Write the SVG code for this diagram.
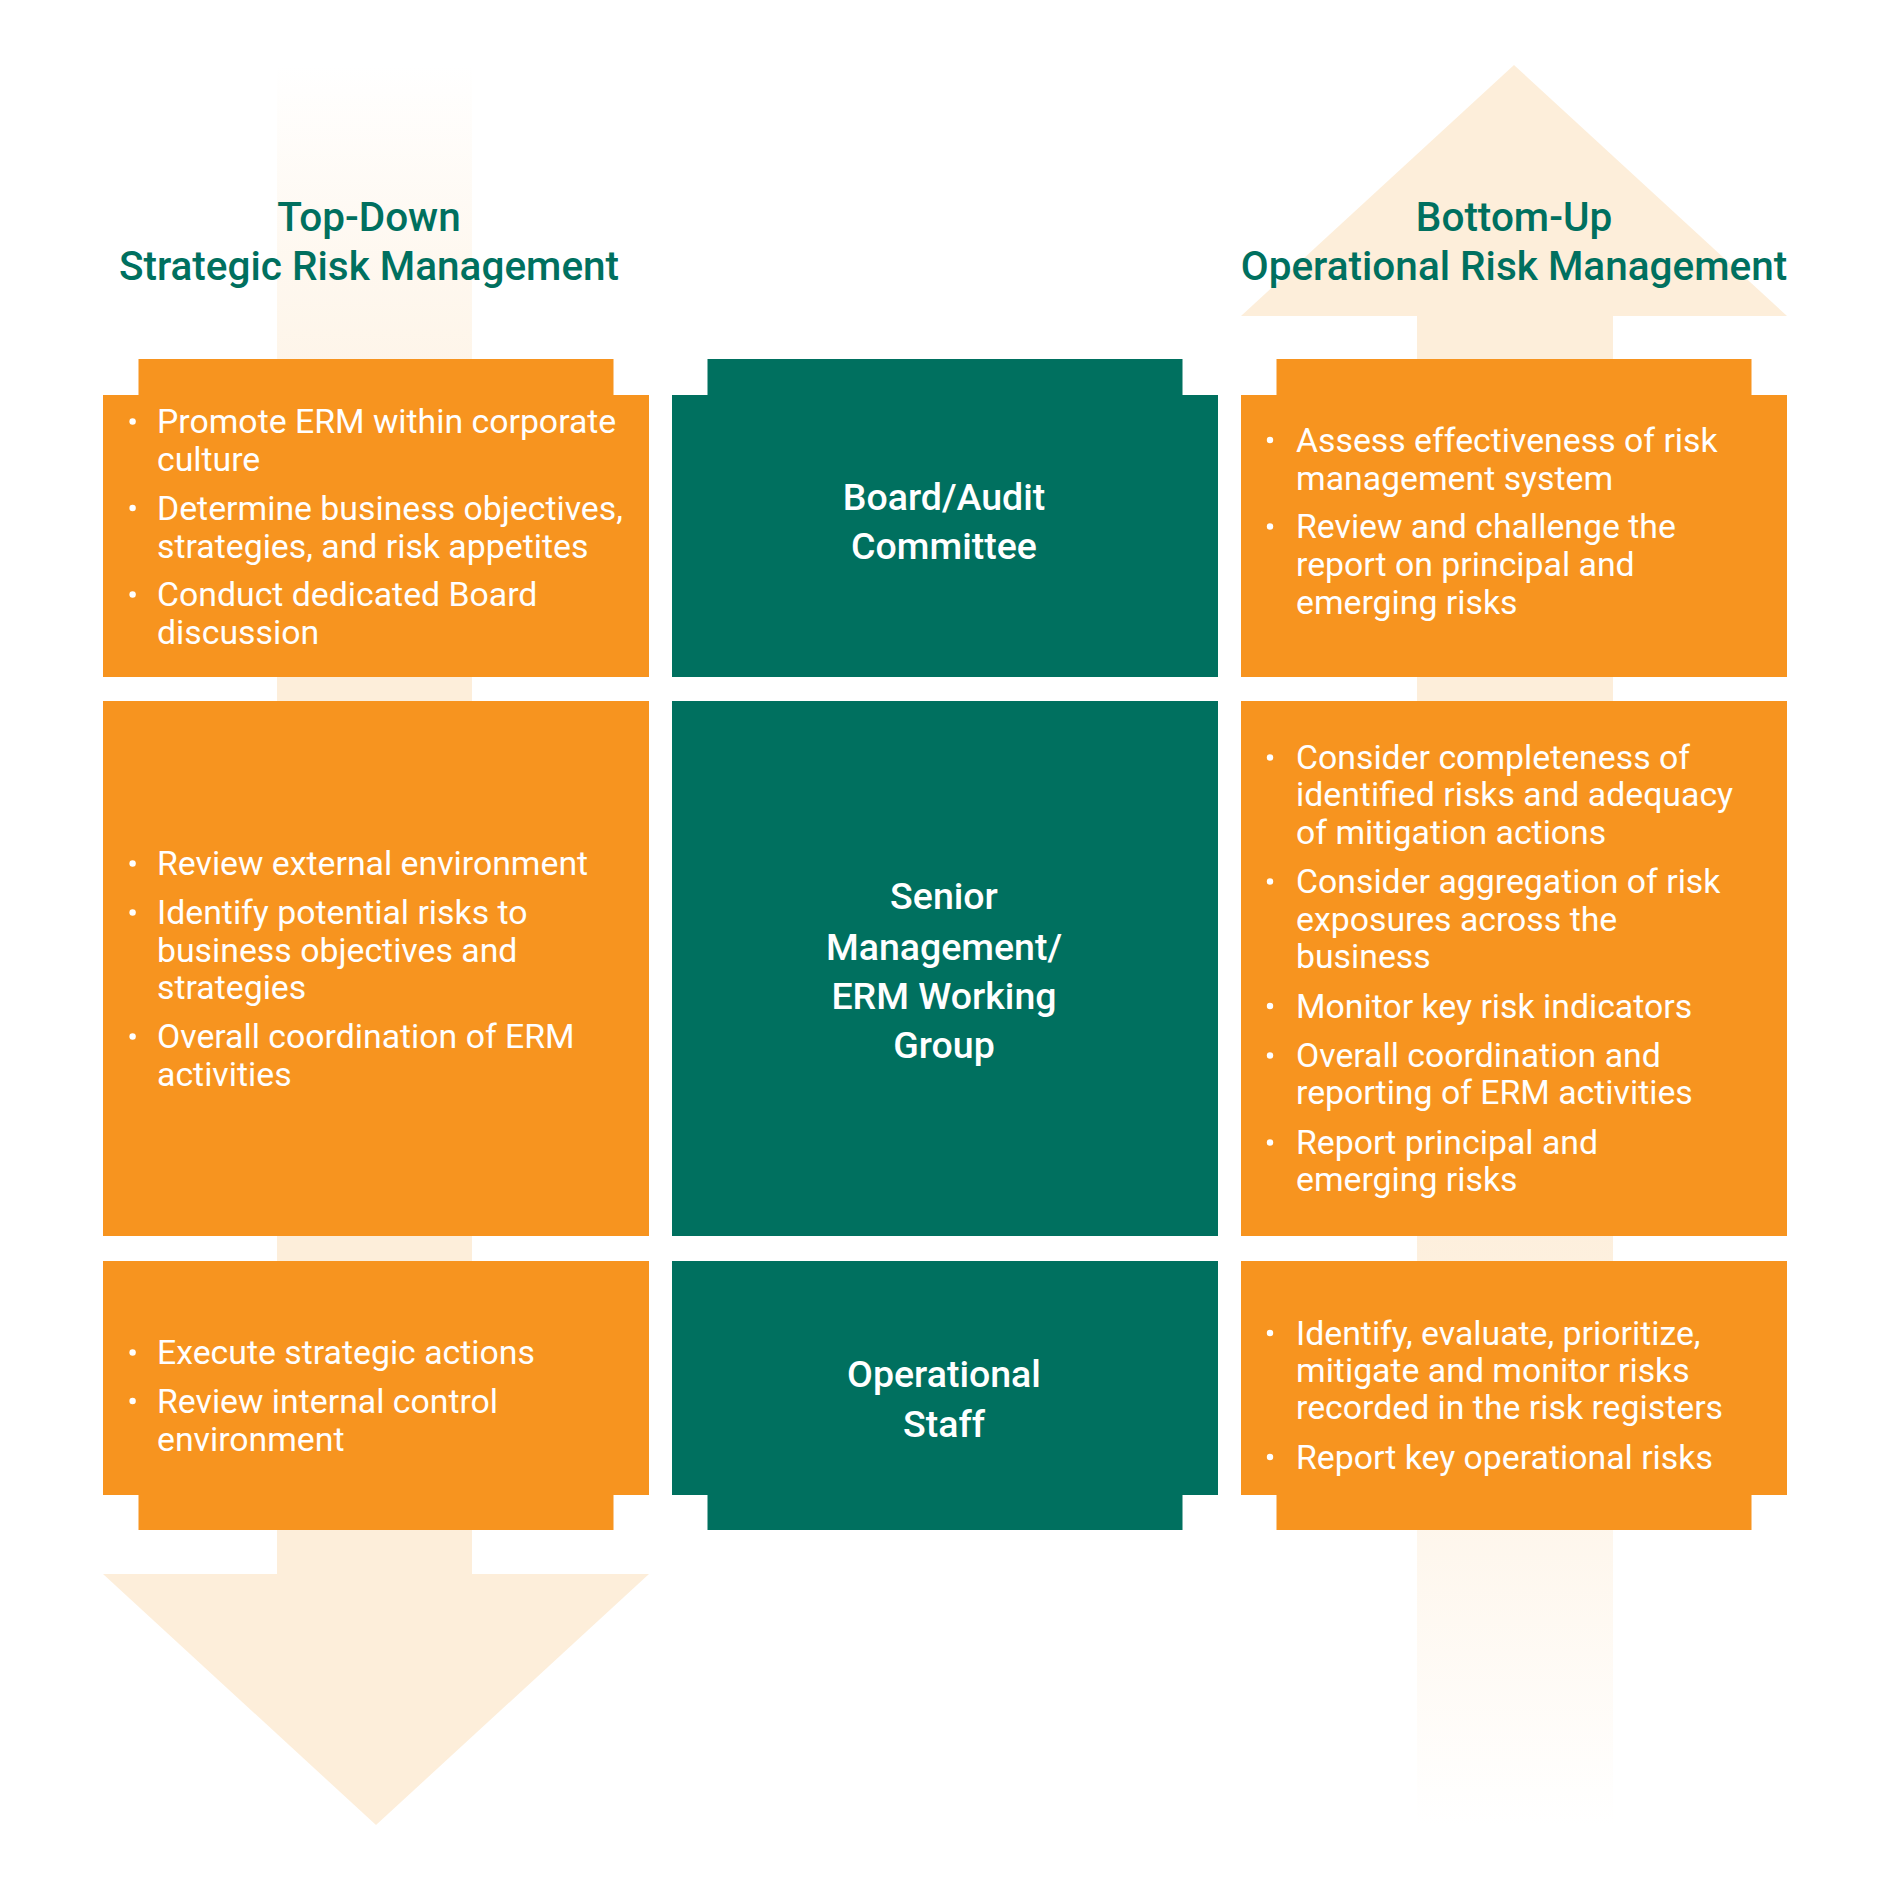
<svg xmlns="http://www.w3.org/2000/svg" width="1890" height="1890" viewBox="0 0 1890 1890">
<defs>
<style>
.org{fill:#F7941F}
.grn{fill:#00705F}
.pale{fill:#FDEEDA}
.title{font-family:Roboto,"Liberation Sans",sans-serif;font-weight:500;font-size:40.5px;fill:#00705F;text-anchor:middle}
.role{font-family:Roboto,"Liberation Sans",sans-serif;font-weight:500;font-size:37.5px;fill:#FFFFFF;text-anchor:middle}
.item{font-family:Roboto,"Liberation Sans",sans-serif;font-weight:400;font-size:33.8px;fill:#FFFFFF}
.dot{fill:#FFFFFF}
</style>
<linearGradient id="gDown" gradientUnits="userSpaceOnUse" x1="0" y1="65" x2="0" y2="600">
<stop offset="0" stop-color="#FDEEDA" stop-opacity="0"/>
<stop offset="0.35" stop-color="#FDEEDA" stop-opacity="0.4"/>
<stop offset="1" stop-color="#FDEEDA" stop-opacity="1"/>
</linearGradient>
<linearGradient id="gUp" gradientUnits="userSpaceOnUse" x1="0" y1="1180" x2="0" y2="1825">
<stop offset="0" stop-color="#FDEEDA" stop-opacity="1"/>
<stop offset="0.55" stop-color="#FDEEDA" stop-opacity="0.5"/>
<stop offset="1" stop-color="#FDEEDA" stop-opacity="0"/>
</linearGradient>
</defs>
<rect width="1890" height="1890" fill="#FFFFFF"/>

<g id="arrows">
<g id="arrow-top-down">
<rect x="277" y="65" width="195" height="535" fill="url(#gDown)"/>
<rect x="277" y="600" width="195" height="975" class="pale"/>
<polygon points="103,1574 649,1574 376,1825" class="pale"/>
</g>
<g id="arrow-bottom-up">
<polygon points="1241,316 1787,316 1514,65" class="pale"/>
<rect x="1417" y="315" width="196" height="866" class="pale"/>
<rect x="1417" y="1180" width="196" height="645" fill="url(#gUp)"/>
</g>
</g>

<g id="title-top-down">
<text class="title" x="369" y="231">Top-Down</text>
<text class="title" x="369" y="280">Strategic Risk Management</text>
</g>
<g id="title-bottom-up">
<text class="title" x="1514" y="231">Bottom-Up</text>
<text class="title" x="1514" y="280">Operational Risk Management</text>
</g>

<g id="board-strategic">
<path class="org" d="M103,395 H138.5 V359 H613.5 V395 H649 V677 H103 Z"/>
<circle class="dot" cx="132.6" cy="421.5" r="3.2"/>
<circle class="dot" cx="132.6" cy="508" r="3.2"/>
<circle class="dot" cx="132.6" cy="594.5" r="3.2"/>
<text class="item" x="157" y="433">Promote ERM within corporate</text>
<text class="item" x="157" y="471">culture</text>
<text class="item" x="157" y="519.5">Determine business objectives,</text>
<text class="item" x="157" y="557.5">strategies, and risk appetites</text>
<text class="item" x="157" y="606">Conduct dedicated Board</text>
<text class="item" x="157" y="644">discussion</text>
</g>

<g id="board">
<path class="grn" d="M672,395 H707.5 V359 H1182.5 V395 H1218 V677 H672 Z"/>
<text class="role" x="944" y="510">Board/Audit</text>
<text class="role" x="944" y="559">Committee</text>
</g>

<g id="board-operational">
<path class="org" d="M1241,395 H1276.5 V359 H1751.5 V395 H1787 V677 H1241 Z"/>
<circle class="dot" cx="1270" cy="440" r="3.2"/>
<circle class="dot" cx="1270" cy="526.5" r="3.2"/>
<text class="item" x="1296" y="452">Assess effectiveness of risk</text>
<text class="item" x="1296" y="490">management system</text>
<text class="item" x="1296" y="538">Review and challenge the</text>
<text class="item" x="1296" y="576">report on principal and</text>
<text class="item" x="1296" y="614">emerging risks</text>
</g>

<g id="senior-strategic">
<rect class="org" x="103" y="701" width="546" height="535"/>
<circle class="dot" cx="132.6" cy="863.5" r="3.2"/>
<circle class="dot" cx="132.6" cy="912.5" r="3.2"/>
<circle class="dot" cx="132.6" cy="1036.5" r="3.2"/>
<text class="item" x="157" y="875">Review external environment</text>
<text class="item" x="157" y="924">Identify potential risks to</text>
<text class="item" x="157" y="961.5">business objectives and</text>
<text class="item" x="157" y="999">strategies</text>
<text class="item" x="157" y="1048">Overall coordination of ERM</text>
<text class="item" x="157" y="1085.5">activities</text>
</g>

<g id="senior">
<rect class="grn" x="672" y="701" width="546" height="535"/>
<text class="role" x="944" y="909">Senior</text>
<text class="role" x="944" y="959.5">Management/</text>
<text class="role" x="944" y="1009">ERM Working</text>
<text class="role" x="944" y="1058">Group</text>
</g>

<g id="senior-operational">
<rect class="org" x="1241" y="701" width="546" height="535"/>
<circle class="dot" cx="1270" cy="757.5" r="3.2"/>
<circle class="dot" cx="1270" cy="881.5" r="3.2"/>
<circle class="dot" cx="1270" cy="1006" r="3.2"/>
<circle class="dot" cx="1270" cy="1055.5" r="3.2"/>
<circle class="dot" cx="1270" cy="1142.5" r="3.2"/>
<text class="item" x="1296" y="768.5">Consider completeness of</text>
<text class="item" x="1296" y="806">identified risks and adequacy</text>
<text class="item" x="1296" y="843.5">of mitigation actions</text>
<text class="item" x="1296" y="893">Consider aggregation of risk</text>
<text class="item" x="1296" y="930.5">exposures across the</text>
<text class="item" x="1296" y="968">business</text>
<text class="item" x="1296" y="1017.5">Monitor key risk indicators</text>
<text class="item" x="1296" y="1067">Overall coordination and</text>
<text class="item" x="1296" y="1104">reporting of ERM activities</text>
<text class="item" x="1296" y="1154">Report principal and</text>
<text class="item" x="1296" y="1191">emerging risks</text>
</g>

<g id="staff-strategic">
<path class="org" d="M103,1261 H649 V1495 H613.5 V1530 H138.5 V1495 H103 Z"/>
<circle class="dot" cx="132.6" cy="1352.5" r="3.2"/>
<circle class="dot" cx="132.6" cy="1401" r="3.2"/>
<text class="item" x="157" y="1364">Execute strategic actions</text>
<text class="item" x="157" y="1412.5">Review internal control</text>
<text class="item" x="157" y="1450.5">environment</text>
</g>

<g id="staff">
<path class="grn" d="M672,1261 H1218 V1495 H1182.5 V1530 H707.5 V1495 H672 Z"/>
<text class="role" x="944" y="1387">Operational</text>
<text class="role" x="944" y="1437">Staff</text>
</g>

<g id="staff-operational">
<path class="org" d="M1241,1261 H1787 V1495 H1751.5 V1530 H1276.5 V1495 H1241 Z"/>
<circle class="dot" cx="1270" cy="1333" r="3.2"/>
<circle class="dot" cx="1270" cy="1457" r="3.2"/>
<text class="item" x="1296" y="1344.5">Identify, evaluate, prioritize,</text>
<text class="item" x="1296" y="1382">mitigate and monitor risks</text>
<text class="item" x="1296" y="1419">recorded in the risk registers</text>
<text class="item" x="1296" y="1468.5">Report key operational risks</text>
</g>
</svg>
